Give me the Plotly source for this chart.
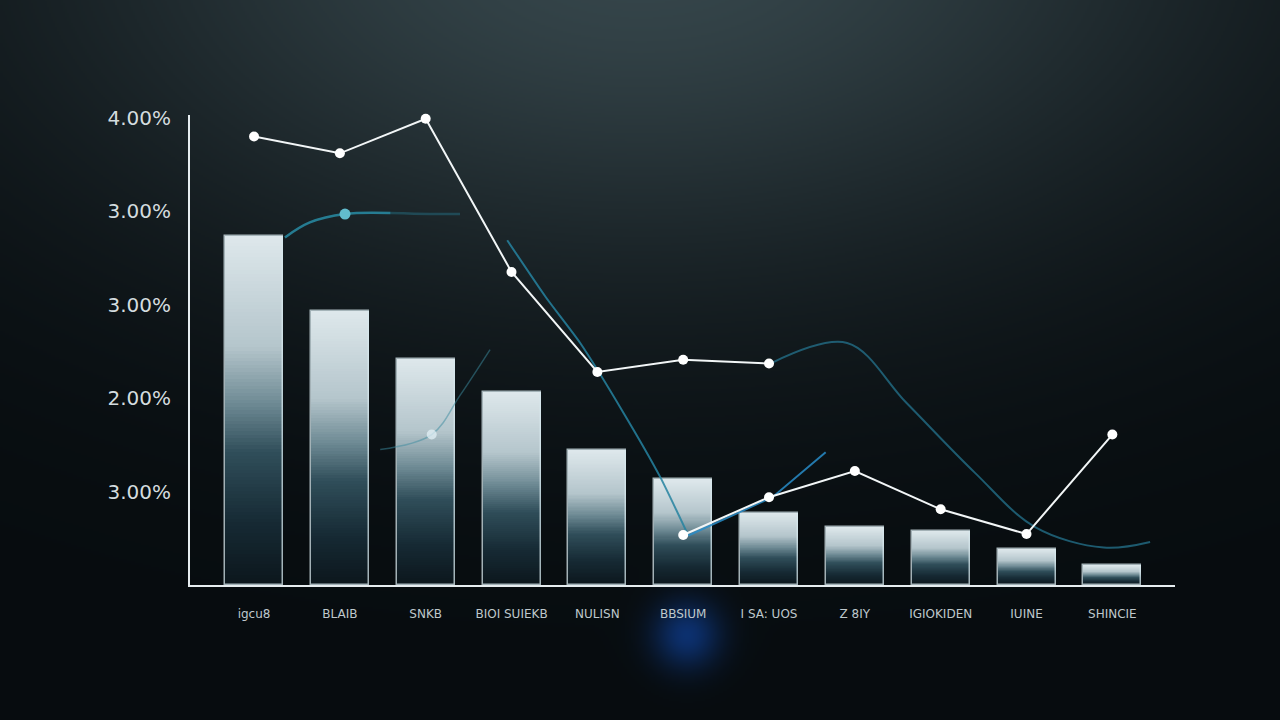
import base64, struct, zlib
import numpy as np
import plotly.graph_objects as go

# ---------------- data ----------------
categories = ["igcu8", "BLAIB", "SNKB", "BIOI SUIEKB", "NULISN", "BBSIUM",
              "I SA: UOS", "Z 8IY", "IGIOKIDEN", "IUINE", "SHINCIE"]
bar_values = [3.74, 2.93, 2.42, 2.07, 1.44, 1.13, 0.77, 0.62, 0.58, 0.385, 0.21]

line_a_x = [0, 1, 2, 3, 4, 5, 6]
line_a_y = [4.80, 4.62, 4.99, 3.35, 2.28, 2.41, 2.37]

line_b_x = [5, 6, 7, 8, 9, 10]
line_b_y = [0.535, 0.94, 1.22, 0.81, 0.545, 1.61]

teal1_x = [0.36, 0.65, 1.06, 1.59]
teal1_y = [3.72, 3.88, 3.97, 3.98]
teal1b_x = [1.59, 2.05, 2.4]
teal1b_y = [3.98, 3.97, 3.97]

teal2_x = [2.95, 3.40, 3.80, 4.30, 4.73, 5.06]
teal2_y = [3.69, 3.08, 2.59, 1.85, 1.16, 0.53]

teal3_x = [5.06, 6.04, 6.66]
teal3_y = [0.53, 0.94, 1.42]

teal4_x = [6.04, 6.91, 7.6, 8.4, 9.1, 9.9, 10.44]
teal4_y = [2.38, 2.59, 1.95, 1.20, 0.62, 0.40, 0.46]

teal5_x = [1.47, 2.07, 2.40, 2.75]
teal5_y = [1.45, 1.61, 2.03, 2.52]

tick_vals_y = [1, 2, 3, 4, 5]
tick_text_y = ["3.00%", "2.00%", "3.00%", "3.00%", "4.00%"]

# ---------------- background image (radial gradient) ----------------
W, H = 640, 360
yy, xx = np.mgrid[0:H, 0:W].astype(float)
xx *= 2; yy *= 2
d2 = ((xx - 640) / 760) ** 2 + ((yy + 60) / 430) ** 2
dark = np.array([7, 12, 15], float)
light = np.array([54, 70, 75], float)
g = np.exp(-d2 * 1.6)[..., None]
img = dark + (light - dark) * g
r2 = (xx - 686) ** 2 + (yy - 634) ** 2
glow = np.exp(-r2 / (2 * 24.0 ** 2))[..., None]
img = img + np.array([5, 36, 95], float) * glow
img = np.clip(img, 0, 255).astype(np.uint8)


def to_png(a):
    h, w, _ = a.shape
    raw = b"".join(b"\x00" + a[i].tobytes() for i in range(h))

    def chunk(t, data):
        c = struct.pack(">I", len(data)) + t + data
        return c + struct.pack(">I", zlib.crc32(t + data) & 0xFFFFFFFF)

    return (b"\x89PNG\r\n\x1a\n" + chunk(b"IHDR", struct.pack(">IIBBBBB", w, h, 8, 2, 0, 0, 0))
            + chunk(b"IDAT", zlib.compress(raw, 9)) + chunk(b"IEND", b""))


bg_uri = "data:image/png;base64," + base64.b64encode(to_png(img)).decode()

# ---------------- figure ----------------
ML, MR, MT, MB = 190, 105, 115, 135
PW, PH = 1280 - ML - MR, 720 - MT - MB

fig = go.Figure()

stops = [(0.0, (12, 22, 28)), (0.18, (22, 42, 52)), (0.38, (48, 78, 90)),
         (0.52, (110, 138, 148)), (0.68, (180, 197, 203)), (1.0, (222, 232, 236))]


def col_at(f):
    for (f0, c0), (f1, c1) in zip(stops[:-1], stops[1:]):
        if f <= f1:
            t = (f - f0) / (f1 - f0)
            return "rgb(%d,%d,%d)" % tuple(round(c0[i] + (c1[i] - c0[i]) * t) for i in range(3))
    return "rgb(%d,%d,%d)" % stops[-1][1]


# gradient bars: nested overlaid bars (tallest/lightest first), each a fraction of its value
N = 100
xs = list(range(len(categories)))
for k in range(N - 1, -1, -1):
    fig.add_trace(go.Bar(
        x=xs, y=[v * (k + 1) / N for v in bar_values],
        width=0.676, marker=dict(color=col_at((k + 0.5) / N), line=dict(width=0)),
        showlegend=False, hoverinfo="skip"))
fig.add_trace(go.Bar(
    x=xs, y=bar_values, width=0.676,
    marker=dict(color="rgba(0,0,0,0)", line=dict(color="rgba(215,232,238,0.75)", width=1.5)),
    showlegend=False, hoverinfo="skip"))

fig.add_trace(go.Scatter(x=teal1_x, y=teal1_y, mode="lines",
                         line=dict(color="rgba(40,140,165,0.85)", width=2.5, shape="spline"),
                         showlegend=False, hoverinfo="skip"))
fig.add_trace(go.Scatter(x=teal1b_x, y=teal1b_y, mode="lines",
                         line=dict(color="rgba(40,140,165,0.35)", width=2.5, shape="spline"),
                         showlegend=False, hoverinfo="skip"))
fig.add_trace(go.Scatter(x=[teal1_x[2]], y=[teal1_y[2]], mode="markers",
                         marker=dict(color="#62bccd", size=11), showlegend=False, hoverinfo="skip"))
fig.add_trace(go.Scatter(x=teal2_x, y=teal2_y, mode="lines",
                         line=dict(color="rgba(38,130,160,0.85)", width=2, shape="spline",
                                   smoothing=0.6),
                         showlegend=False, hoverinfo="skip"))
fig.add_trace(go.Scatter(x=teal3_x, y=teal3_y, mode="lines",
                         line=dict(color="rgba(40,140,200,0.85)", width=2),
                         showlegend=False, hoverinfo="skip"))
fig.add_trace(go.Scatter(x=teal4_x, y=teal4_y, mode="lines",
                         line=dict(color="rgba(35,110,135,0.8)", width=2, shape="spline"),
                         showlegend=False, hoverinfo="skip"))
fig.add_trace(go.Scatter(x=teal5_x, y=teal5_y, mode="lines",
                         line=dict(color="rgba(60,140,160,0.5)", width=1.5, shape="spline"),
                         showlegend=False, hoverinfo="skip"))
fig.add_trace(go.Scatter(x=[teal5_x[1]], y=[teal5_y[1]], mode="markers",
                         marker=dict(color="rgba(225,240,245,0.75)", size=10),
                         showlegend=False, hoverinfo="skip"))

for lx, ly in [(line_a_x, line_a_y), (line_b_x, line_b_y)]:
    fig.add_trace(go.Scatter(x=lx, y=ly, mode="lines+markers",
                             line=dict(color="#f2f6f7", width=2),
                             marker=dict(color="#ffffff", size=10),
                             cliponaxis=False, showlegend=False, hoverinfo="skip"))

fig.update_layout(
    width=1280, height=720,
    margin=dict(l=ML, r=MR, t=MT, b=MB),
    paper_bgcolor="#0b1216", plot_bgcolor="rgba(0,0,0,0)",
    barmode="overlay", bargap=0,
    images=[dict(source=bg_uri, xref="paper", yref="paper",
                 x=-ML / PW, y=1 + MT / PH, sizex=1280 / PW, sizey=720 / PH,
                 xanchor="left", yanchor="top", sizing="stretch", layer="below")],
    font=dict(family="DejaVu Sans, sans-serif"),
    xaxis=dict(range=[-0.746, 10.73], tickvals=xs, ticktext=categories,
               showgrid=False, zeroline=False, showline=True, linecolor="#e6edf0",
               linewidth=2, ticks="", ticklabelstandoff=17,
               tickfont=dict(size=12, color="#bfc8cc", family="DejaVu Sans")),
    yaxis=dict(range=[0, 5.03], tickvals=tick_vals_y, ticktext=tick_text_y,
               showgrid=False, zeroline=False, showline=True, linecolor="#e6edf0",
               linewidth=2, ticks="", ticklabelstandoff=13,
               tickfont=dict(size=20, color="#d4dcdf", family="DejaVu Sans")),
)

fig.write_html("out.html", config={"displayModeBar": False},
               post_script="document.body.style.margin='0';document.body.style.background='#0b1216';")
